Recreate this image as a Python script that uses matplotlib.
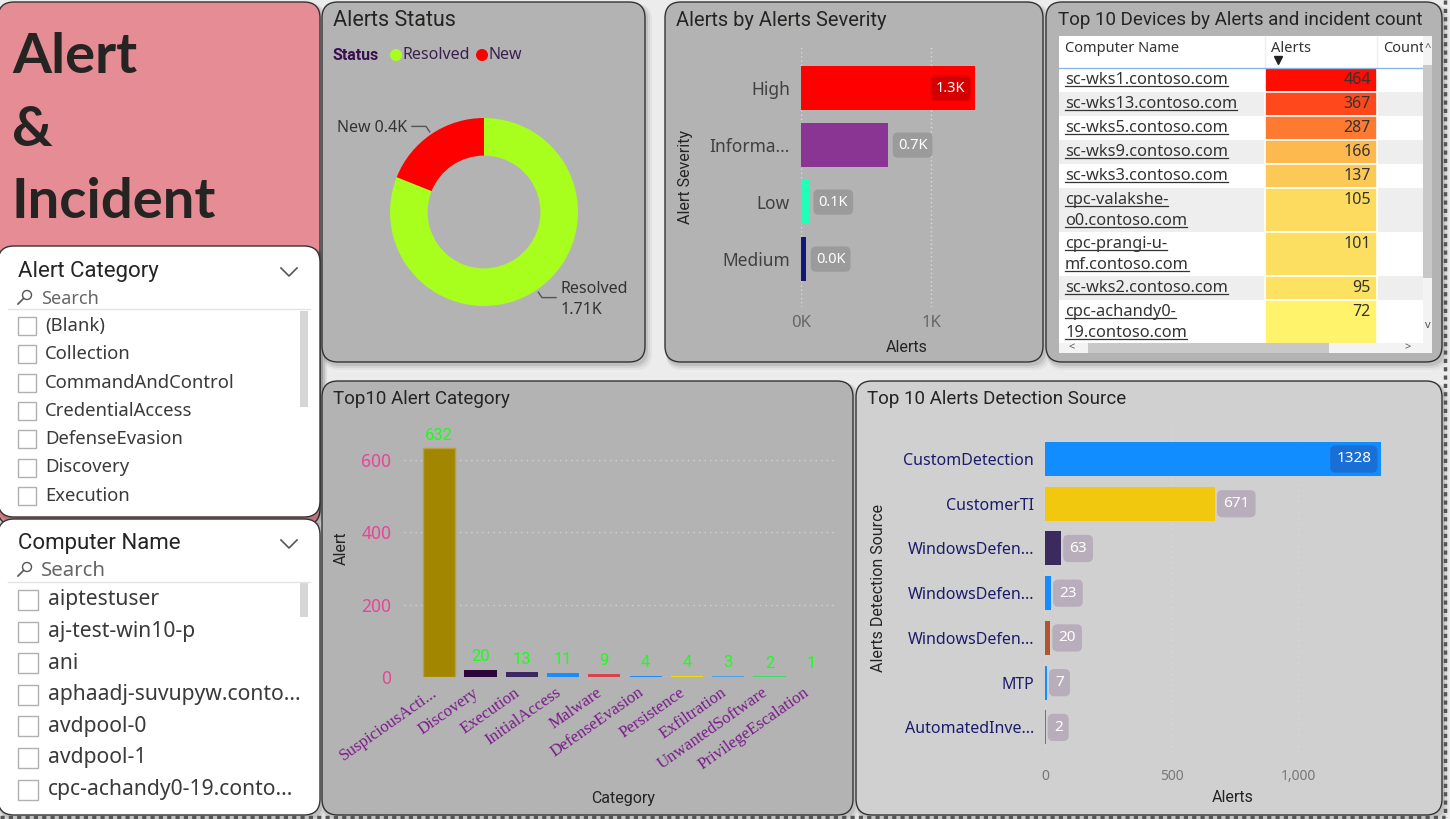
import numpy as np
import matplotlib.pyplot as plt
from matplotlib.patches import FancyBboxPatch, Rectangle, Circle
from matplotlib.colors import LinearSegmentedColormap, Normalize
from matplotlib.transforms import ScaledTranslation

W, H = 1450, 819

# ---- data ----
status_labels = ["Resolved", "New"]
status_values = [1710, 400]
status_colors = ["#a8ff1e", "#ff0000"]

severity = ["High", "Informa...", "Low", "Medium"]
severity_alerts = [1340, 670, 60, 40]
severity_colors = ["#ff0000", "#8a3494", "#1effb8", "#12177a"]

devices = ["sc-wks1.contoso.com", "sc-wks13.contoso.com", "sc-wks5.contoso.com",
           "sc-wks9.contoso.com", "sc-wks3.contoso.com", "cpc-valakshe-\no0.contoso.com",
           "cpc-prangi-u-\nmf.contoso.com", "sc-wks2.contoso.com", "cpc-achandy0-\n19.contoso.com"]
device_alerts = [464, 367, 287, 166, 137, 105, 101, 95, 72]

categories = ["SuspiciousActi...", "Discovery", "Execution", "InitialAccess", "Malware",
              "DefenseEvasion", "Persistence", "Exfiltration", "UnwantedSoftware",
              "PrivilegeEscalation"]
category_alerts = [632, 20, 13, 11, 9, 4, 4, 3, 2, 1]
category_colors = ["#a38600", "#2e0538", "#3b2762", "#1a8cff", "#d9434b",
                   "#1a8cff", "#f0e000", "#4a9ee8", "#3adc66", "#4a9ee8"]

sources = ["CustomDetection", "CustomerTI", "WindowsDefen...", "WindowsDefen...",
           "WindowsDefen...", "MTP", "AutomatedInve..."]
source_alerts = [1328, 671, 63, 23, 20, 7, 2]
source_colors = ["#118dff", "#f2c80f", "#3b2a5e", "#118dff", "#b0552e", "#118dff", "#118dff"]

alert_category_items = ["(Blank)", "Collection", "CommandAndControl", "CredentialAccess",
                        "DefenseEvasion", "Discovery", "Execution"]
computer_items = ["aiptestuser", "aj-test-win10-p", "ani", "aphaadj-suvupyw.conto...",
                  "avdpool-0", "avdpool-1", "cpc-achandy0-19.conto..."]

TF = "Roboto"      # titles
LF = "Noto Sans"   # labels

fig = plt.figure(figsize=(W / 100, H / 100), dpi=100)
fig.patch.set_facecolor("#ececec")
bg = fig.add_axes([0, 0, 1, 1])
bg.set_xlim(0, W)
bg.set_ylim(H, 0)
bg.axis("off")


def box_ax(x0, y0, x1, y1):
    a = fig.add_axes([x0 / W, 1 - y1 / H, (x1 - x0) / W, (y1 - y0) / H])
    a.set_facecolor("none")
    return a


def panel(x0, y0, x1, y1, fc, r=16, shadow=True):
    if shadow:
        for k, al in [(7, 0.04), (5, 0.06), (3, 0.09)]:
            bg.add_patch(FancyBboxPatch((x0 + 1, y0 + 2), x1 - x0 + k - 1, y1 - y0 + k - 1,
                                        boxstyle=f"round,pad=0,rounding_size={r}",
                                        fc="black", ec="none", alpha=al))
    bg.add_patch(FancyBboxPatch((x0, y0), x1 - x0, y1 - y0,
                                boxstyle=f"round,pad=0,rounding_size={r}",
                                fc=fc, ec="#333333", lw=1))


# panels
panel(-2, 2, 320, 525, "#e68c94")
panel(-2, 246, 320, 517, "white")
panel(-2, 519, 320, 815, "white")
panel(322, 2, 645, 362, "#b3b3b3")
panel(665, 2, 1043, 362, "#b3b3b3")
panel(1046, 2, 1442, 362, "#b3b3b3")
panel(322, 381, 853, 815, "#b3b3b3")
panel(856, 381, 1442, 815, "#d0d0d0")

# dotted page border
bg.plot([1445, 1445], [0, 817], color="#555555", lw=2.5, ls=(0, (1.2, 1.2)))
bg.plot([0, 1445], [817, 817], color="#555555", lw=2.5, ls=(0, (1.2, 1.2)))

# ---- title block ----
for txt, yy in [("Alert", 57), ("&", 130), ("Incident", 202)]:
    bg.text(12, yy, txt, fontsize=40.5, fontweight="bold", family="Lato",
            color="#252423", va="center", ha="left")


# ---- slicers ----
def slicer(title, items, y_title, y_search, y_sep, y0, dy, box, fs, fs_s, x_text, thumb):
    bg.text(18, y_title, title, fontsize=16, family=TF, color="#252423", va="center")
    bg.plot([281, 289, 297], [y_title - 4, y_title + 4, y_title - 4], color="#555555", lw=1.2)
    bg.add_patch(Circle((27, y_search - 4), 4.5, fill=False, ec="#555555", lw=1))
    bg.plot([23.5, 18], [y_search - 0.5, y_search + 5], color="#555555", lw=1.2)
    bg.text(41, y_search, "Search", fontsize=fs_s, family=LF, color="#666666", va="center")
    bg.plot([8, 310], [y_sep, y_sep], color="#e3e3e3", lw=1)
    bg.add_patch(Rectangle((300, thumb[0]), 8, thumb[1] - thumb[0], fc="#d6d6d6", ec="none"))
    for i, it in enumerate(items):
        yy = y0 + dy * i
        bg.add_patch(Rectangle((18, yy - box / 2), box, box, fc="white", ec="#b0b0b0", lw=1))
        bg.text(x_text, yy, it, fontsize=fs, family=LF, color="#3a3a3a", va="center")


slicer("Alert Category", alert_category_items, 272, 299, 309, 326, 28.3, 18, 13.3, 13, 45, (311, 407))
slicer("Computer Name", computer_items, 544, 571, 582, 600, 31.6, 20, 15.2, 14.7, 48, (582, 617))

# ---- Alerts Status donut ----
bg.text(333, 20, "Alerts Status", fontsize=15.5, family=TF, color="#252423", va="center")
bg.text(333, 55, "Status", fontsize=11.5, family=TF, fontweight="bold", color="#3b0f4f", va="center")
lx = 396
for lab, col, w in zip(status_labels, status_colors, [86, 40]):
    bg.add_patch(Circle((lx, 55), 6, fc=col, ec="none"))
    bg.text(lx + 7, 55, lab, fontsize=11.5, family=LF, color="#3b1f4f", va="center")
    lx += w

pax = box_ax(484 - 94, 212 - 94, 484 + 94, 212 + 94)
wedges, _ = pax.pie(status_values, colors=status_colors, startangle=90, counterclock=False,
                    radius=1, wedgeprops=dict(width=0.4, edgecolor="none"))
pax.set_xlim(-1, 1)
pax.set_ylim(-1, 1)
pax.axis("off")
for w, lab, v in zip(wedges, status_labels, status_values):
    th = np.deg2rad((w.theta1 + w.theta2) / 2)
    cx, cy = np.cos(th), np.sin(th)
    sx = np.sign(cx)
    p0 = (1.03 * cx, 1.03 * cy)
    p1 = (1.1 * cx, 1.1 * cy)
    p2 = (p1[0] + 0.15 * sx, p1[1])
    pax.plot([p0[0], p1[0], p2[0]], [p0[1], p1[1], p2[1]], color="#555555", lw=1, clip_on=False)
    val = f"{v / 1000:.3g}K"
    s = f"{lab} {val}" if sx < 0 else f"{lab}\n{val}"
    pax.text(p2[0] + 0.05 * sx, p2[1] - 0.02, s, ha="right" if sx < 0 else "left", va="center",
             fontsize=11.5, family=LF, color="#333333", linespacing=1.35, clip_on=False)

# ---- Alerts by severity ----
bg.text(676, 20, "Alerts by Alerts Severity", fontsize=14.5, family=TF, color="#252423", va="center")
sax = box_ax(801, 47, 1013, 307)
ypos = np.arange(len(severity))
sax.barh(ypos, severity_alerts, height=0.76, color=severity_colors)
sax.set_ylim(3.84, -0.72)
sax.set_xlim(0, 1630)
sax.set_xticks([0, 1000], ["0K", "1K"])
sax.set_yticks(ypos, severity)
for sp in sax.spines.values():
    sp.set_visible(False)
sax.grid(axis="x", color="#d8d8d8", ls=(0, (1, 2)), lw=1)
sax.set_axisbelow(True)
sax.tick_params(length=0)
sax.tick_params(axis="y", pad=8, labelsize=12.5, labelcolor="#404040")
sax.tick_params(axis="x", pad=6, labelsize=12, labelcolor="#666666")
for t in sax.get_yticklabels() + sax.get_xticklabels():
    t.set_family(LF)
sax.set_xlabel("Alerts", fontsize=11.5, family=TF, color="#252423")
sax.xaxis.set_label_coords(0.5, -0.125)
sax.set_ylabel("Alert Severity", fontsize=11.5, family=TF, color="#252423")
sax.yaxis.set_label_coords(-0.51, 0.5)
smax = max(severity_alerts)
for y, v in zip(ypos, severity_alerts):
    s = f"{v / 1000:.1f}K"
    inside = v > 0.8 * smax
    sax.annotate(s, (v, y), xytext=(-7 if inside else 7, 0), textcoords="offset points",
                 ha="right" if inside else "left", va="center", color="white", fontsize=10.5,
                 family=LF, bbox=dict(boxstyle="round,pad=0.35,rounding_size=0.35",
                                      fc="#d40000" if inside else "#9b9b9b", ec="none"))

# ---- Top 10 devices table ----
bg.text(1058, 20, "Top 10 Devices by Alerts and incident count", fontsize=13.5, family=TF,
        color="#252423", va="center")
tx0, tx1, c_alert, c_count, sb = 1059, 1423, 1265, 1377, 1432
bg.add_patch(Rectangle((tx0, 36), sb - tx0, 317, fc="white", ec="none"))
bg.text(1065, 48, "Computer Name", fontsize=10.5, family=LF, color="#333333", va="center")
bg.text(1271, 48, "Alerts", fontsize=10.5, family=LF, color="#333333", va="center")
bg.text(1383, 48, "Count", fontsize=10.5, family=LF, color="#333333", va="center")
bg.plot([1278], [60], marker="v", color="#222222", ms=6)
bg.plot([c_alert, c_alert], [36, 68], color="#eeeeee", lw=1)
bg.plot([c_count, c_count], [36, 68], color="#eeeeee", lw=1)
bg.plot([tx0, tx1], [68, 68], color="#8ab6e6", lw=1)

cmap = LinearSegmentedColormap.from_list(
    "heat", [(0, "#fff36b"), (0.08, "#fcdc5e"), (0.24, "#fdb94e"),
             (0.55, "#fd7a30"), (0.75, "#ff4a1c"), (1, "#ff0d00")])
norm = Normalize(min(device_alerts), max(device_alerts))
name_texts = []
top = 68
for i, (d, v) in enumerate(zip(devices, device_alerts)):
    lines = d.split("\n")
    h = 24 if len(lines) == 1 else 44
    rowc = "white" if i % 2 == 0 else "#eeeeee"
    bg.add_patch(Rectangle((tx0, top), c_alert - tx0, h, fc=rowc, ec="none"))
    bg.add_patch(Rectangle((c_count, top), tx1 - c_count, h, fc=rowc, ec="none"))
    bg.add_patch(Rectangle((c_alert, top), c_count - c_alert, h, fc=cmap(norm(v)),
                           ec="white", lw=1.2))
    for j, ln in enumerate(lines):
        name_texts.append(bg.text(1065, top + 12 + 21 * j, ln, fontsize=11.8, family=LF,
                                  color="#333333", va="center"))
    bg.text(1371, top + 12, str(v), fontsize=11.5, family=LF, color="#333333",
            va="center", ha="right")
    top += h

# scrollbars
bg.add_patch(Rectangle((tx1, 36), sb - tx1, 307, fc="#f3f3f3", ec="none", zorder=3))
bg.add_patch(Rectangle((tx1, 65), sb - tx1, 213, fc="#c8c8c8", ec="none", zorder=3))
bg.add_patch(Rectangle((tx0, 343), sb - tx0, 10, fc="#f3f3f3", ec="none", zorder=3))
bg.add_patch(Rectangle((1088, 343), 241, 10, fc="#c8c8c8", ec="none", zorder=3))
for s, xx, yy in [("^", 1428, 48), ("v", 1428, 326), ("<", 1072, 348), (">", 1408, 348)]:
    bg.text(xx, yy, s, fontsize=8, family=LF, color="#555555", ha="center", va="center", zorder=4)

# ---- Top10 alert category ----
bg.text(333, 399, "Top10 Alert Category", fontsize=13.5, family=TF, color="#252423", va="center")
cax = box_ax(404, 420, 834, 677)
xpos = np.arange(len(categories))
cax.bar(xpos, category_alerts, width=0.78, color=category_colors, edgecolor=["#b8a040"] + ["none"] * 9)
cax.set_xlim(-0.85, 9.56)
cax.set_ylim(0, 710)
cax.set_yticks([0, 200, 400, 600])
cax.set_xticks(xpos, categories, rotation=35, ha="right", rotation_mode="anchor")
for sp in cax.spines.values():
    sp.set_visible(False)
cax.grid(axis="y", color="#d2d2d2", ls=(0, (1, 3)), lw=1)
cax.set_axisbelow(True)
cax.tick_params(length=0)
cax.tick_params(axis="y", pad=9, labelsize=12.5, labelcolor="#e64597")
cax.tick_params(axis="x", pad=4, labelsize=12.2, labelcolor="#7b1a8c")
for t in cax.get_yticklabels():
    t.set_family(LF)
shift = ScaledTranslation(-8 / 100, -2 / 100, fig.dpi_scale_trans)
for t in cax.get_xticklabels():
    t.set_family("Liberation Serif")
    t.set_transform(t.get_transform() + shift)
for x, v in zip(xpos, category_alerts):
    cax.annotate(str(v), (x, v), xytext=(0, 4), textcoords="offset points", ha="center",
                 va="bottom", color="#19ff19", fontsize=12, family=TF)
cax.set_xlabel("Category", fontsize=11.5, family=TF, color="#252423")
cax.xaxis.set_label_coords(0.51, -0.445)
cax.set_ylabel("Alert", fontsize=11.5, family=TF, color="#252423")
cax.yaxis.set_label_coords(-0.128, 0.5)

# ---- Top 10 alerts detection source ----
bg.text(867, 399, "Top 10 Alerts Detection Source", fontsize=13.5, family=TF, color="#252423",
        va="center")
dax = box_ax(1045, 425, 1420, 752)
ypos2 = np.arange(len(sources))
dax.barh(ypos2, source_alerts, height=0.76, color=source_colors)
dax.set_ylim(6.55, -0.76)
dax.set_xlim(0, 1482)
dax.set_xticks([0, 500, 1000], ["0", "500", "1,000"])
dax.set_yticks(ypos2, sources)
for sp in dax.spines.values():
    sp.set_visible(False)
dax.grid(axis="x", color="#dadada", ls=(0, (1, 3)), lw=1)
dax.set_axisbelow(True)
dax.tick_params(length=0)
dax.tick_params(axis="y", pad=8, labelsize=11.5, labelcolor="#1b1b6b")
dax.tick_params(axis="x", pad=12, labelsize=10, labelcolor="#777777")
for t in dax.get_yticklabels() + dax.get_xticklabels():
    t.set_family(LF)
dax.set_xlabel("Alerts", fontsize=11.5, family=TF, color="#252423")
dax.xaxis.set_label_coords(0.5, -0.115)
dax.set_ylabel("Alerts Detection Source", fontsize=11.5, family=TF, color="#252423")
dax.yaxis.set_label_coords(-0.425, 0.5)
dmax = max(source_alerts)
for y, v in zip(ypos2, source_alerts):
    inside = v > 0.8 * dmax
    dax.annotate(str(v), (v, y), xytext=(-7 if inside else 6, 0), textcoords="offset points",
                 ha="right" if inside else "left", va="center", color="white", fontsize=11,
                 family=LF, bbox=dict(boxstyle="round,pad=0.4,rounding_size=0.35",
                                      fc="#1a6fd6" if inside else "#b8aebb", ec="none"))

# underline the device names
fig.canvas.draw()
inv = bg.transData.inverted()
for t in name_texts:
    bb = t.get_window_extent()
    (xa, ya), (xb, yb) = inv.transform([[bb.x0, bb.y0], [bb.x1, bb.y1]])
    bg.plot([xa, xb], [ya - 2, ya - 2], color="#333333", lw=0.9)

fig.savefig("out.png", dpi=100, facecolor=fig.get_facecolor())
